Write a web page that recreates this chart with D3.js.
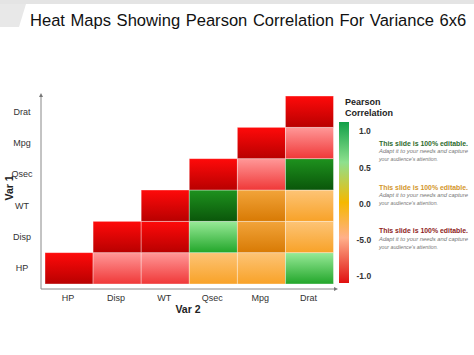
<!DOCTYPE html>
<html><head><meta charset="utf-8">
<script src="https://cdnjs.cloudflare.com/ajax/libs/d3/7.8.5/d3.min.js"></script>
<style>html,body{margin:0;padding:0;background:#fff}svg{display:block}text{font-family:"Liberation Sans",Arial,sans-serif}</style>
</head><body>
<script>
const titleText = "Heat Maps Showing Pearson Correlation For Variance 6x6";
const vars = ["HP", "Disp", "WT", "Qsec", "Mpg", "Drat"];
// rows = Var 1 (from HP upward), values for columns starting at the diagonal
const rowHP   = [-1.0, -0.7, -0.7, -0.3, -0.3, 0.6];
const rowDisp = [-1.0, -0.95, 0.6, 0.1, -0.3];
const rowWT   = [-1.0, 0.95, 0.1, -0.3];
const rowQsec = [-1.0, -0.7, 0.95];
const rowMpg  = [-1.0, -0.7];
const rowDrat = [-1.0];
const rows = [rowHP, rowDisp, rowWT, rowQsec, rowMpg, rowDrat];
const legendTicks = ["1.0", "0.5", "0.0", "-5.0", "-1.0"];
const noteTitle = "This slide is 100% editable.";
const noteLines = ["Adapt it to your needs and capture", "your audience\u2019s attention."];

const W = 474, H = 355;
const svg = d3.select("body").append("svg").attr("width", W).attr("height", H);
const defs = svg.append("defs");

// header decoration
svg.append("rect").attr("x", 0).attr("y", 0).attr("width", W).attr("height", 4).attr("fill", "#e4e4e4");
svg.append("polygon").attr("points", "0,4 26,4 19,27 0,27").attr("fill", "#e8e8e8");
const title = svg.append("text").attr("x", 30).attr("y", 26).attr("font-size", 17.5).attr("fill", "#111")
  .attr("word-spacing", 1).text(titleText);
// shrink if natural width is too wide for the slot
const tw = title.node().getComputedTextLength();
if (tw > 436) title.attr("font-size", 17.5 * 436 / tw);

const x = d3.scaleBand().domain(vars).range([45, 333.5]).padding(0);
const y = d3.scaleBand().domain(vars).range([284, 96]).padding(0);

// colour classes: [top, bottom]
const palette = [
  ["#ff0a0a", "#b80000"],  // red
  ["#ff9898", "#f03838"],  // pink
  ["#fdc476", "#f8a228"],  // light orange
  ["#f2a43a", "#d87a04"],  // dark orange
  ["#98ea98", "#22a62a"],  // light green
  ["#1e921e", "#0a560a"]   // dark green
];
const colorClass = d3.scaleThreshold().domain([-0.85, -0.5, -0.15, 0.3, 0.8]).range(d3.range(palette.length));
palette.forEach((p, i) => {
  const g = defs.append("linearGradient").attr("id", "g" + i).attr("x1", 0).attr("y1", 0).attr("x2", 0).attr("y2", 1);
  g.append("stop").attr("offset", "0%").attr("stop-color", p[0]);
  g.append("stop").attr("offset", "100%").attr("stop-color", p[1]);
});

const cells = [];
rows.forEach((vals, r) => vals.forEach((v, k) => cells.push({row: vars[r], col: vars[r + k], v})));

svg.append("g").selectAll("rect").data(cells).join("rect")
  .attr("x", d => x(d.col)).attr("y", d => y(d.row))
  .attr("width", x.bandwidth()).attr("height", y.bandwidth())
  .attr("fill", d => "url(#g" + colorClass(d.v) + ")")
  .attr("stroke", "#ffffff").attr("stroke-opacity", 0.45).attr("stroke-width", 0.8);

// axes lines with arrows
defs.append("marker").attr("id", "arr").attr("viewBox", "0 0 10 10").attr("refX", 5).attr("refY", 5)
  .attr("markerWidth", 4).attr("markerHeight", 4).attr("orient", "auto")
  .append("path").attr("d", "M0,0 L10,5 L0,10 z").attr("fill", "#777");
svg.append("line").attr("x1", 41).attr("y1", 289).attr("x2", 41).attr("y2", 95)
  .attr("stroke", "#888").attr("stroke-width", 1).attr("marker-end", "url(#arr)");
svg.append("line").attr("x1", 41).attr("y1", 289).attr("x2", 336).attr("y2", 289)
  .attr("stroke", "#888").attr("stroke-width", 1).attr("marker-end", "url(#arr)");

// tick labels
svg.append("g").selectAll("text").data(vars).join("text")
  .attr("x", d => x(d) + x.bandwidth() / 2 - 1).attr("y", 301)
  .attr("text-anchor", "middle").attr("font-size", 9).attr("fill", "#333").text(d => d);
svg.append("g").selectAll("text").data(vars).join("text")
  .attr("x", 22).attr("y", d => y(d) + y.bandwidth() / 2).attr("dy", "0.35em")
  .attr("text-anchor", "middle").attr("font-size", 9).attr("fill", "#333").text(d => d);

svg.append("text").attr("x", 188).attr("y", 313).attr("text-anchor", "middle")
  .attr("font-size", 10.5).attr("font-weight", "bold").attr("fill", "#222").text("Var 2");
svg.append("text").attr("transform", "translate(13,188) rotate(-90)").attr("text-anchor", "middle")
  .attr("font-size", 10.5).attr("font-weight", "bold").attr("fill", "#222").text("Var 1");

// legend
svg.append("text").attr("x", 345).attr("y", 105).attr("font-size", 9).attr("font-weight", "bold").attr("fill", "#222").text("Pearson");
svg.append("text").attr("x", 345).attr("y", 116).attr("font-size", 9).attr("font-weight", "bold").attr("fill", "#222").text("Correlation");

const lg = defs.append("linearGradient").attr("id", "legendGrad").attr("x1", 0).attr("y1", 0).attr("x2", 0).attr("y2", 1);
[["0%", "#12a048"], ["25%", "#8ee08e"], ["50%", "#f6b800"], ["72%", "#ffb08a"], ["100%", "#e01010"]]
  .forEach(s => lg.append("stop").attr("offset", s[0]).attr("stop-color", s[1]));
svg.append("rect").attr("x", 339).attr("y", 122).attr("width", 10).attr("height", 161).attr("fill", "url(#legendGrad)");

const ly = d3.scalePoint().domain(legendTicks).range([131.5, 276]);
svg.append("g").selectAll("text").data(legendTicks).join("text")
  .attr("x", d => d.startsWith("-") ? 356.5 : 359).attr("y", d => ly(d)).attr("dy", "0.35em")
  .attr("font-size", 8.5).attr("font-weight", "bold").attr("fill", "#333").text(d => d);

const notes = [
  {c: "#2e6b2e", y: 143.5},
  {c: "#d3962c", y: 187.5},
  {c: "#8e1c1c", y: 231}
];
const ng = svg.append("g").selectAll("g").data(notes).join("g");
ng.append("text").attr("x", 379).attr("y", d => d.y).attr("dy", "0.35em").attr("font-size", 6.6)
  .attr("font-weight", "bold").attr("fill", d => d.c).attr("textLength", 89).attr("lengthAdjust", "spacingAndGlyphs").text(noteTitle);
noteLines.forEach((t, i) => {
  ng.append("text").attr("x", 379).attr("y", d => d.y + 8 + i * 7.7).attr("dy", "0.35em")
    .attr("font-size", 5.6).attr("font-style", "italic").attr("fill", "#777")
    .attr("textLength", i === 0 ? 89 : 59).attr("lengthAdjust", "spacingAndGlyphs").text(t);
});
</script>
</body></html>
